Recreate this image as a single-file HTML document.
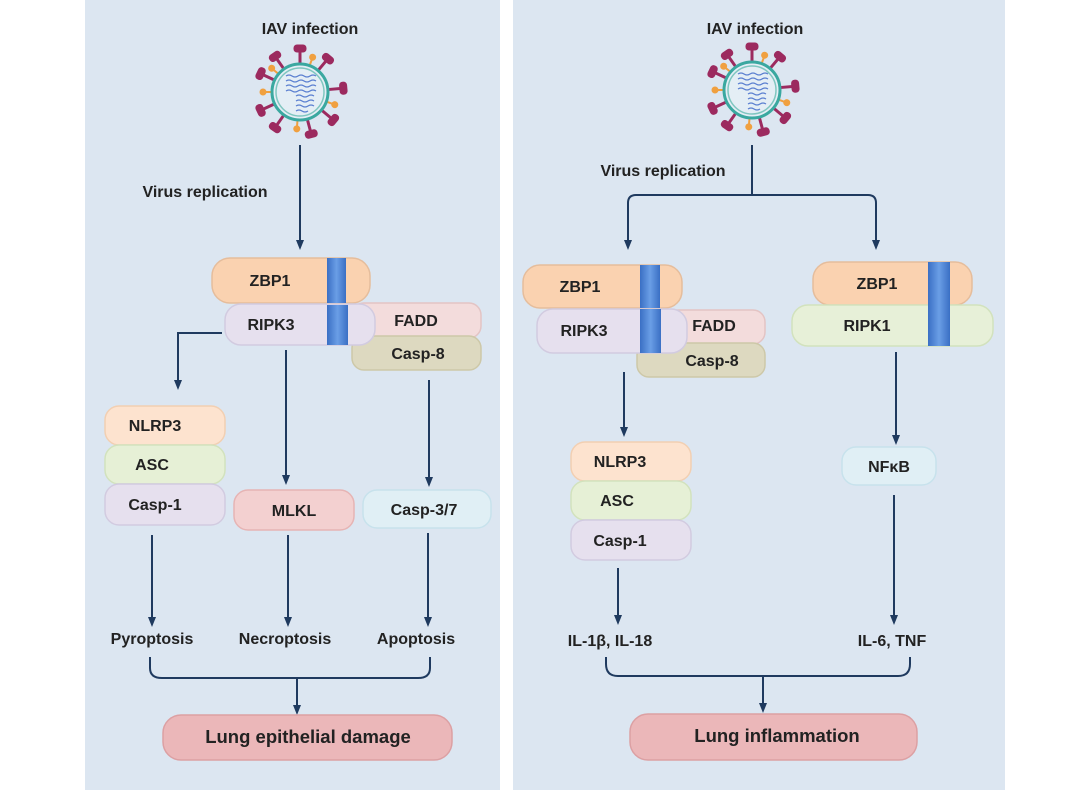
<!DOCTYPE html>
<html><head><meta charset="utf-8"><style>
html,body{margin:0;padding:0;background:#fff;}
svg{display:block}
text{font-family:"Liberation Sans",sans-serif;font-weight:bold;fill:#222;}
</style></head><body>
<svg width="1080" height="807" viewBox="0 0 1080 807" xmlns="http://www.w3.org/2000/svg">
<defs>
<marker id="ah" markerWidth="10" markerHeight="10" refX="5" refY="5" orient="auto" markerUnits="userSpaceOnUse">
<path d="M0,1 L10,5 L0,9 Z" fill="#1f3a5f"/></marker>
<linearGradient id="bar" x1="0" y1="0" x2="1" y2="0"><stop offset="0" stop-color="#3a6fc4"/><stop offset="0.5" stop-color="#6a9ee6"/><stop offset="1" stop-color="#3a6fc4"/></linearGradient>
<g id="virus">
<g stroke="#9c2a5f" stroke-width="3" fill="#9c2a5f">
<line x1="0" y1="-28" x2="0" y2="-42"/><rect x="-5" y="-46" width="10" height="5" rx="2"/>
<g transform="rotate(40)"><line x1="0" y1="-28" x2="0" y2="-42"/><rect x="-5" y="-46" width="10" height="5" rx="2"/></g>
<g transform="rotate(85)"><line x1="0" y1="-28" x2="0" y2="-42"/><rect x="-5" y="-46" width="10" height="5" rx="2"/></g>
<g transform="rotate(130)"><line x1="0" y1="-28" x2="0" y2="-42"/><rect x="-5" y="-46" width="10" height="5" rx="2"/></g>
<g transform="rotate(165)"><line x1="0" y1="-28" x2="0" y2="-42"/><rect x="-5" y="-46" width="10" height="5" rx="2"/></g>
<g transform="rotate(215)"><line x1="0" y1="-28" x2="0" y2="-42"/><rect x="-5" y="-46" width="10" height="5" rx="2"/></g>
<g transform="rotate(245)"><line x1="0" y1="-28" x2="0" y2="-42"/><rect x="-5" y="-46" width="10" height="5" rx="2"/></g>
<g transform="rotate(295)"><line x1="0" y1="-28" x2="0" y2="-42"/><rect x="-5" y="-46" width="10" height="5" rx="2"/></g>
<g transform="rotate(325)"><line x1="0" y1="-28" x2="0" y2="-42"/><rect x="-5" y="-46" width="10" height="5" rx="2"/></g>
</g>
<g stroke="#f0a040" stroke-width="2" fill="#f0a040">
<g transform="rotate(20)"><line x1="0" y1="-28" x2="0" y2="-37"/><circle cx="0" cy="-37" r="2.5"/></g>
<g transform="rotate(110)"><line x1="0" y1="-28" x2="0" y2="-37"/><circle cx="0" cy="-37" r="2.5"/></g>
<g transform="rotate(185)"><line x1="0" y1="-28" x2="0" y2="-37"/><circle cx="0" cy="-37" r="2.5"/></g>
<g transform="rotate(270)"><line x1="0" y1="-28" x2="0" y2="-37"/><circle cx="0" cy="-37" r="2.5"/></g>
<g transform="rotate(310)"><line x1="0" y1="-28" x2="0" y2="-37"/><circle cx="0" cy="-37" r="2.5"/></g>
</g>
<circle r="28" fill="#e4eef5" stroke="#3aa8a0" stroke-width="3"/>
<circle r="24" fill="none" stroke="#7fc6c0" stroke-width="1.5"/>
<g stroke="#5a7fd0" stroke-width="1.2" fill="none">
<path d="M-14,-16 q3,-2 6,0 t6,0 t6,0 t6,0 t6,0"/>
<path d="M-14,-11 q3,-2 6,0 t6,0 t6,0 t6,0 t6,0"/>
<path d="M-14,-6 q3,-2 6,0 t6,0 t6,0 t6,0 t6,0"/>
<path d="M-14,-1 q3,-2 6,0 t6,0 t6,0 t6,0 t6,0"/>
<path d="M-4,4 q3,-2 6,0 t6,0 t6,0"/>
<path d="M-4,9 q3,-2 6,0 t6,0 t6,0"/>
<path d="M-4,14 q3,-2 6,0 t6,0 t6,0"/>
<path d="M-4,19 q3,-2 6,0 t6,0"/>
</g>
</g>
</defs>
<rect x="85" y="0" width="415" height="790" fill="#dce6f1"/>
<rect x="513" y="0" width="492" height="790" fill="#dce6f1"/>

<g stroke="#1f3a5f" stroke-width="2" fill="none">
<line x1="300" y1="145" x2="300" y2="245" marker-end="url(#ah)"/>
<path d="M222,333 H178 V385" marker-end="url(#ah)"/>
<line x1="286" y1="350" x2="286" y2="480" marker-end="url(#ah)"/>
<line x1="429" y1="380" x2="429" y2="482" marker-end="url(#ah)"/>
<line x1="152" y1="535" x2="152" y2="622" marker-end="url(#ah)"/>
<line x1="288" y1="535" x2="288" y2="622" marker-end="url(#ah)"/>
<line x1="428" y1="533" x2="428" y2="622" marker-end="url(#ah)"/>
<path d="M150,657 V668 Q150,678 162,678 H418 Q430,678 430,668 V657"/>
<line x1="297" y1="678" x2="297" y2="710" marker-end="url(#ah)"/>
<path d="M752,145 V195"/>
<path d="M628,245 V203 Q628,195 636,195 H868 Q876,195 876,203 V245" marker-end="url(#ah)"/>
<path d="M628,203 V245" marker-end="url(#ah)"/>
<line x1="624" y1="372" x2="624" y2="432" marker-end="url(#ah)"/>
<line x1="896" y1="352" x2="896" y2="440" marker-end="url(#ah)"/>
<line x1="618" y1="568" x2="618" y2="620" marker-end="url(#ah)"/>
<line x1="894" y1="495" x2="894" y2="620" marker-end="url(#ah)"/>
<path d="M606,657 V664 Q606,676 618,676 H898 Q910,676 910,664 V657"/>
<line x1="763" y1="676" x2="763" y2="708" marker-end="url(#ah)"/>
</g>

<use href="#virus" x="300" y="92"/>
<use href="#virus" x="752" y="90"/>

<g stroke-width="1.5">
<rect x="352" y="303" width="129" height="35" rx="12" fill="#f3dcdc" stroke="#e3c4c4"/>
<rect x="352" y="336" width="129" height="34" rx="12" fill="#ddd9c0" stroke="#cdc8a8"/>
<rect x="212" y="258" width="158" height="45" rx="18" fill="#fad2b0" stroke="#e5bd9c"/>
<rect x="225" y="304" width="150" height="41" rx="16" fill="#e6e0ee" stroke="#d2cbe0"/>
<rect x="327" y="258" width="19" height="45" fill="url(#bar)"/>
<rect x="327" y="305" width="21" height="40" fill="url(#bar)"/>
<rect x="105" y="406" width="120" height="39" rx="14" fill="#fde3cf" stroke="#f2cfb2"/>
<rect x="105" y="445" width="120" height="39" rx="14" fill="#e6f0d6" stroke="#d2e2bd"/>
<rect x="105" y="484" width="120" height="41" rx="14" fill="#e6e0ee" stroke="#d2cbe0"/>
<rect x="234" y="490" width="120" height="40" rx="14" fill="#f3d0d0" stroke="#e6b4b4"/>
<rect x="363" y="490" width="128" height="38" rx="14" fill="#e0eff5" stroke="#c7e2ec"/>
<rect x="163" y="715" width="289" height="45" rx="18" fill="#ebb7b9" stroke="#dca0a3"/>
<rect x="637" y="310" width="128" height="34" rx="12" fill="#f3dcdc" stroke="#e3c4c4"/>
<rect x="637" y="343" width="128" height="34" rx="12" fill="#ddd9c0" stroke="#cdc8a8"/>
<rect x="523" y="265" width="159" height="43" rx="17" fill="#fad2b0" stroke="#e5bd9c"/>
<rect x="537" y="309" width="150" height="44" rx="16" fill="#e6e0ee" stroke="#d2cbe0"/>
<rect x="640" y="265" width="20" height="43" fill="url(#bar)"/>
<rect x="640" y="309" width="21" height="44" fill="url(#bar)"/>
<rect x="813" y="262" width="159" height="43" rx="17" fill="#fad2b0" stroke="#e5bd9c"/>
<rect x="792" y="305" width="201" height="41" rx="16" fill="#e7f0d8" stroke="#d2e2bd"/>
<rect x="928" y="262" width="22" height="43" fill="url(#bar)"/>
<rect x="928" y="305" width="22" height="41" fill="url(#bar)"/>
<rect x="571" y="442" width="120" height="39" rx="14" fill="#fde3cf" stroke="#f2cfb2"/>
<rect x="571" y="481" width="120" height="39" rx="14" fill="#e6f0d6" stroke="#d2e2bd"/>
<rect x="571" y="520" width="120" height="40" rx="14" fill="#e6e0ee" stroke="#d2cbe0"/>
<rect x="842" y="447" width="94" height="38" rx="14" fill="#e0eff5" stroke="#c7e2ec"/>
<rect x="630" y="714" width="287" height="46" rx="18" fill="#ebb7b9" stroke="#dca0a3"/>
</g>

<g font-size="16" text-anchor="middle">
<text x="310" y="34">IAV infection</text>
<text x="205" y="197">Virus replication</text>
<text x="270" y="286">ZBP1</text>
<text x="271" y="330">RIPK3</text>
<text x="416" y="326">FADD</text>
<text x="418" y="359">Casp-8</text>
<text x="155" y="431">NLRP3</text>
<text x="152" y="470">ASC</text>
<text x="155" y="510">Casp-1</text>
<text x="294" y="516">MLKL</text>
<text x="424" y="515">Casp-3/7</text>
<text x="152" y="644">Pyroptosis</text>
<text x="285" y="644">Necroptosis</text>
<text x="416" y="644">Apoptosis</text>
<text x="308" y="743" font-size="18.5">Lung epithelial damage</text>

<text x="755" y="34">IAV infection</text>
<text x="663" y="176">Virus replication</text>
<text x="580" y="292">ZBP1</text>
<text x="584" y="336">RIPK3</text>
<text x="714" y="331">FADD</text>
<text x="712" y="366">Casp-8</text>
<text x="877" y="289">ZBP1</text>
<text x="867" y="331">RIPK1</text>
<text x="620" y="467">NLRP3</text>
<text x="617" y="506">ASC</text>
<text x="620" y="546">Casp-1</text>
<text x="889" y="472">NFκB</text>
<text x="610" y="646">IL-1β, IL-18</text>
<text x="892" y="646">IL-6, TNF</text>
<text x="777" y="742" font-size="18.5">Lung inflammation</text>
</g>
</svg>
</body></html>
